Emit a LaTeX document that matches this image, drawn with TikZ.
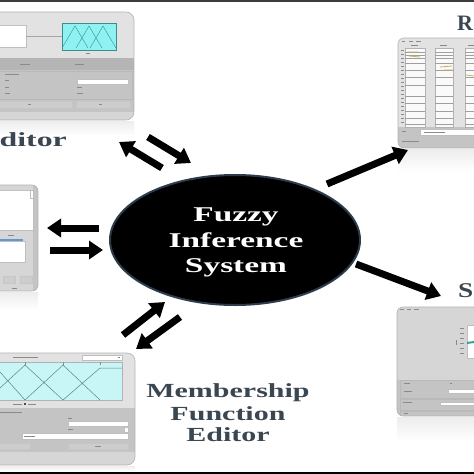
\documentclass[tikz,border=0pt]{standalone}
\usepackage{fontspec}
\setmainfont{Liberation Serif}
\usetikzlibrary{arrows.meta,shapes.geometric}
\definecolor{txtdark}{HTML}{3A4650}
\definecolor{elledge}{HTML}{2C3C4C}
\definecolor{cyanbox}{HTML}{8EF2F2}
\definecolor{cyanlight}{HTML}{C8F6F6}
\definecolor{tealline}{HTML}{3E8C8C}
\definecolor{shotA}{HTML}{E2E2E2}
\definecolor{shotB}{HTML}{B5B5B5}
\definecolor{shotC}{HTML}{C4C4C4}
\definecolor{shotD}{HTML}{D6D6D6}
\definecolor{shotE}{HTML}{CDCDCD}
\definecolor{fakeTxt}{HTML}{8A8A8A}
\definecolor{barTop}{HTML}{3C3C3C}
\definecolor{blueSel}{HTML}{5A9AD8}
\definecolor{yellowMark}{HTML}{C8B060}
\newcommand\wtxt[2]{\scalebox{#1}[1]{#2}}
\tikzset{
  bigarrow/.style={line width=7pt,-{Triangle[length=14pt,width=18pt]}},
  labeltxt/.style={text=txtdark,font=\fontsize{20}{22}\selectfont\bfseries,inner sep=0pt,anchor=base},
  fistxt/.style={text=white,font=\fontsize{21}{23}\selectfont\bfseries,inner sep=0pt,anchor=base},
  shotframe/.style={draw=gray!60,line width=0.6pt},
  fake/.style={draw=fakeTxt,line width=0.8pt},
  field/.style={fill=white,draw=gray!50,line width=0.4pt},
  btn/.style={fill=shotE,draw=gray!45,line width=0.4pt},
  refl/.style={top color=gray!14,bottom color=white,draw=none}
}
\begin{document}
\begin{tikzpicture}[x=1pt,y=-1pt]
\useasboundingbox (0,0) rectangle (474,474);
\clip (0,0) rectangle (474,474);
\fill[white] (0,0) rectangle (474,474);
% frame bars
\fill[barTop] (0,0) rectangle (474,2);
\fill[black] (0,471.7) rectangle (474,474);

% ===== top-left screenshot (FIS editor)
\shade[refl] (-10,121) rectangle (134,136);
\begin{scope}
\clip[rounded corners=8] (-10,12) rectangle (134,120);
\fill[shotA] (-10,12) rectangle (134,58);
\fill[shotB] (-10,58) rectangle (134,70);
\fill[shotC] (-10,70) rectangle (134,112);
\fill[shotD] (-10,112) rectangle (134,120);
\draw[field] (-10,25) rectangle (26,47);
\draw[gray!70] (26,36) -- (62,36);
\draw[fill=cyanbox,draw=tealline,line width=0.6pt] (62,23) rectangle (116,50);
\draw[tealline,line width=0.4pt] (62,48) -- (75,26) -- (88,48) (76,48) -- (89,26) -- (102,48) (90,48) -- (103,26) -- (116,48);
\draw[fake] (86,53) -- (90,53);
\draw[fake] (20,64) -- (30,64) (75,64) -- (84,64);
\draw[gray!55] (-10,71) rectangle (132,99);
\draw[fake] (5,74) -- (19,74) (5,80) -- (9,80) (5,87) -- (9,87) (5,93) -- (10,93) (77,87) -- (82,87) (77,93) -- (83,93);
\draw[field] (77,79) rectangle (128,84);
\draw[btn] (-6,101) rectangle (72,108);
\draw[btn] (76,101) rectangle (130,108);
\draw[fake] (28,104.5) -- (31,104.5) (99,104.5) -- (102,104.5);
\end{scope}
\draw[shotframe,rounded corners=8] (-10,12) rectangle (134,120);

% ===== left screenshot
\shade[refl] (-10,292) rectangle (38,310);
\begin{scope}
\clip[rounded corners=6] (-10,185) rectangle (38,291);
\fill[shotD] (-10,185) rectangle (38,291);
\fill[shotC] (33,185) rectangle (38,291);
\draw[field] (-10,190) rectangle (33,230);
\draw[field] (30,190) rectangle (33,198);
\draw[fake] (8,235) -- (14,235);
\draw[blueSel,line width=1.6pt] (-10,240) -- (23,240);
\draw[field] (-10,241.5) rectangle (25,262);
\draw[btn] (3,276) rectangle (15,283);
\draw[btn] (20,276) rectangle (32,283);
\draw[fake] (12,288) -- (17,288);
\end{scope}
\draw[shotframe,rounded corners=6] (-10,185) rectangle (38,291);

% ===== top-right screenshot (rule editor)
\shade[refl] (398,149) rectangle (484,172);
\begin{scope}
\clip[rounded corners=6] (398,38) rectangle (484,148);
\fill[shotA] (398,38) rectangle (484,127);
\fill[shotC] (398,127) rectangle (484,148);
\draw[fake] (402,41) -- (405,41) (409,41) -- (413,41) (416,41) -- (421,41);
\draw[fake] (411,45) -- (418,45) (440,45) -- (447,45) (468,45) -- (476,45);
\foreach \cx/\cw in {405/20,435/18,465/20}{
  \draw[fill=white!96!gray,draw=gray!60,line width=0.5pt] (\cx,48) rectangle ({\cx+\cw},127);
  \foreach \ry in {52,55,58,63,70,77,85,96,103,111,118,124}{
    \draw[gray!75,line width=0.9pt] (\cx,\ry) -- ({\cx+\cw},\ry);
  }
}
\foreach \ry in {50,54,58,62,66,70,74,78,82,86,90,94,98,102,106,110,114,118,122}{
  \draw[fakeTxt,line width=0.5pt] (401,\ry) -- (403.5,\ry);
}
\draw[yellowMark,line width=0.8pt] (407,52) -- (418,52) (409,56) -- (420,57);
\draw[yellowMark,line width=0.8pt] (440,67) -- (452,66) (444,70) -- (453,70);
\draw[yellowMark,line width=0.8pt] (466,75) -- (474,76);
\draw[fake] (402,131) -- (406,131);
\draw[field] (420,129) rectangle (484,135);
\draw[fake] (424,132) -- (445,132);
\draw[fake] (402,141) -- (419,141);
\end{scope}
\draw[shotframe,rounded corners=6] (398,38) rectangle (484,148);

% ===== bottom-right screenshot (surface viewer)
\shade[refl] (397,417) rectangle (484,442);
\begin{scope}
\clip[rounded corners=6] (397,307) rectangle (484,416);
\fill[shotD] (397,307) rectangle (484,380);
\fill[shotC] (397,380) rectangle (484,416);
\draw[fake] (400,309) -- (404,309) (407,309) -- (411,309) (414,309) -- (419,309);
\draw[field] (467,325) rectangle (484,358);
\foreach \ry in {328,333,338,343,348,353}{
  \draw[fakeTxt,line width=0.5pt] (460,\ry) -- (464,\ry);
}
\draw[fakeTxt,line width=0.5pt] (456,340) -- (456,345);
\draw[tealline!80!cyan,line width=2pt] (467,343) -- (474,342);
\draw[gray!55] (400,380) rectangle (484,398);
\draw[gray!55] (400,399.5) rectangle (484,410);
\draw[gray!55] (400,411) rectangle (484,420);
\draw[fake] (404,383) -- (410,383) (404,391) -- (412,391) (450,383) -- (452,383);
\draw[field] (448,389) rectangle (484,393);
\draw[fake] (403,402) -- (412,402);
\draw[field] (440,402) rectangle (484,405);
\draw[fake] (404,413) -- (408,413);
\end{scope}
\draw[shotframe,rounded corners=6] (397,307) rectangle (484,416);

% ===== bottom-left screenshot (membership function editor)
\shade[refl] (-10,466) rectangle (135,471);
\begin{scope}
\clip[rounded corners=8] (-10,353) rectangle (135,465);
\fill[shotA] (-10,353) rectangle (135,408);
\fill[shotC] (-10,408) rectangle (135,452);
\fill[shotD] (-10,452) rectangle (135,465);
\draw[fake] (13,357.5) -- (38,357.5);
\draw[field] (82,355) rectangle (122,360);
\draw[fake] (118,357.5) -- (120,357.5);
\draw[fill=cyanlight,draw=gray!60,line width=0.5pt] (-10,362) rectangle (122,400);
\draw[tealline!70!gray,line width=0.5pt]
  (-13,400) -- (0,370) (0,372) -- (25,400)
  (-13,400) -- (25,365) -- (63,400)
  (25,400) -- (63,365) -- (100,400)
  (63,400) -- (100,368) -- (122,368);
\draw[fakeTxt,line width=0.4pt] (25,362) -- (25,365) (63,362) -- (63,365) (100,362) -- (100,365);
\draw[fake] (13,404) -- (22,404) (28,404) -- (36,404);
\fill[black!70] (24,403) rectangle (26,405);
\draw[fake] (0,412) -- (22,412) (68,418) -- (72,418) (68,429) -- (73,429);
\draw[field] (68,421) rectangle (128,426);
\draw[field] (124,427.5) rectangle (128,432);
\draw[field] (22,433) rectangle (128,439);
\draw[fake] (24,436) -- (35,436);
\draw[btn] (-10,443) rectangle (30,449);
\draw[btn] (68,443) rectangle (128,449);
\draw[fake] (95,446) -- (101,446);
\end{scope}
\draw[shotframe,rounded corners=8] (-10,353) rectangle (135,465);

% ===== central ellipse
\node[ellipse,fill=black,draw=elledge,line width=2pt,minimum width=250pt,minimum height=130pt,inner sep=0pt] (fis) at (235,240) {};
\node[fistxt] (fis1) at (236,221) {\wtxt{1.59}{Fuzzy}};
\node[fistxt] (fis2) at (236,247) {\wtxt{1.59}{Inference}};
\node[fistxt] (fis3) at (236,272) {\wtxt{1.59}{System}};

% ===== labels
\node[labeltxt,anchor=base east] (edlab) at (67,146) {\wtxt{1.59}{Editor}};
\node[labeltxt,anchor=base west,font=\fontsize{22}{24}\selectfont\bfseries] (rlab) at (457,30) {\wtxt{1.0}{R}};
\node[labeltxt,anchor=base west,font=\fontsize{21}{23}\selectfont\bfseries] (slab) at (458,297) {\wtxt{1.3}{S}};
\node[labeltxt] (mf1) at (228,397) {\wtxt{1.5}{Membership}};
\node[labeltxt] (mf2) at (228,420) {\wtxt{1.5}{Function}};
\node[labeltxt] (mf3) at (228,441) {\wtxt{1.5}{Editor}};

% ===== arrows
\coordinate (a1s) at (162,168); \coordinate (a1e) at (119,142);
\coordinate (a2s) at (148,137); \coordinate (a2e) at (191,163);
\coordinate (a3s) at (99,228);  \coordinate (a3e) at (47,228);
\coordinate (a4s) at (50,250);  \coordinate (a4e) at (103,250);
\coordinate (a5s) at (327,184); \coordinate (a5e) at (408,150);
\coordinate (a6s) at (356,264); \coordinate (a6e) at (441,296);
\coordinate (a7s) at (123,335); \coordinate (a7e) at (165,302);
\coordinate (a8s) at (180,317); \coordinate (a8e) at (136,349);
\draw[bigarrow] (a1s) -- (a1e);
\draw[bigarrow] (a2s) -- (a2e);
\draw[bigarrow] (a3s) -- (a3e);
\draw[bigarrow] (a4s) -- (a4e);
\draw[bigarrow] (a5s) -- (a5e);
\draw[bigarrow] (a6s) -- (a6e);
\draw[bigarrow] (a7s) -- (a7e);
\draw[bigarrow] (a8s) -- (a8e);
\end{tikzpicture}
\end{document}
